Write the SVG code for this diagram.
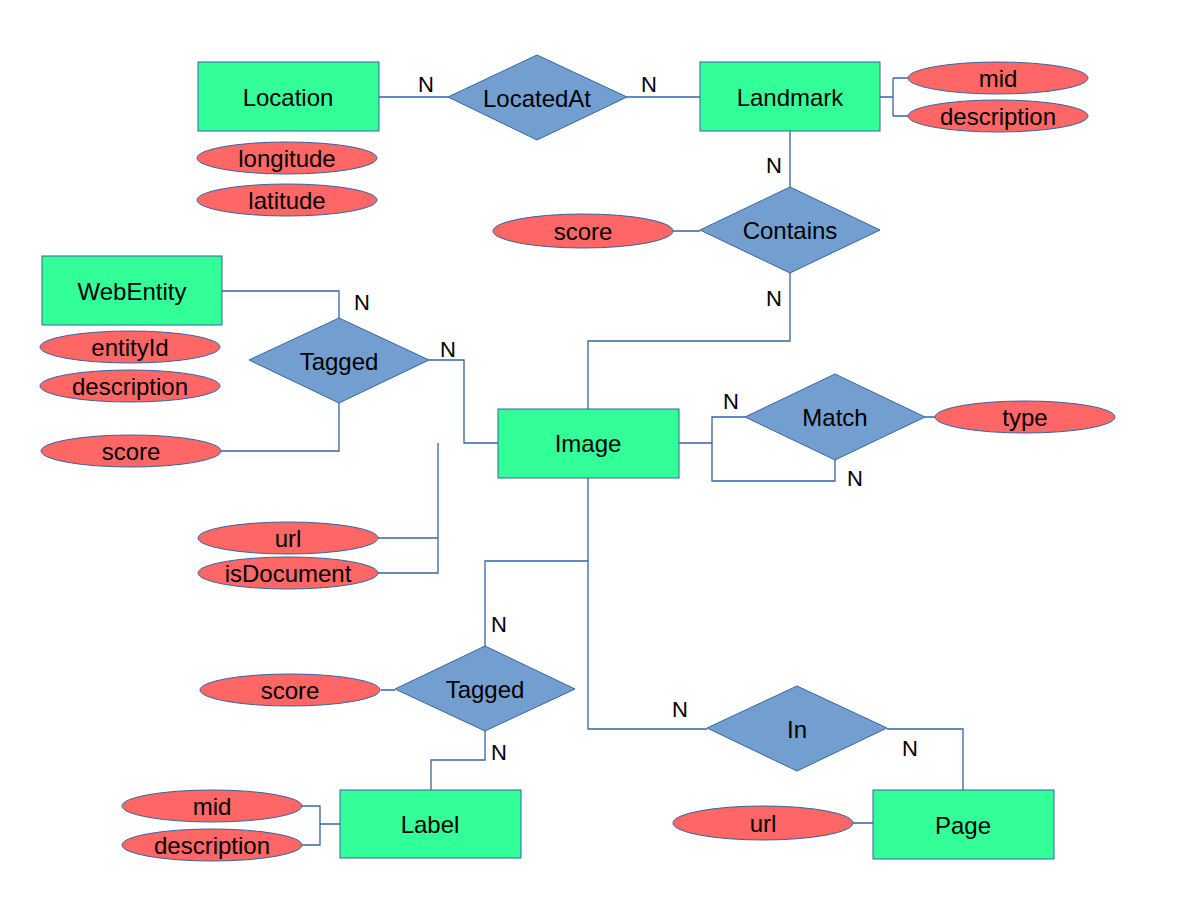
<svg xmlns="http://www.w3.org/2000/svg" width="1200" height="900" viewBox="0 0 1200 900">
<style>
.e{fill:#33ff99;stroke:#3465a4;stroke-width:1}
.r{fill:#729fcf;stroke:#3465a4;stroke-width:1}
.a{fill:#ff6666;stroke:#3465a4;stroke-width:1}
.c{fill:none;stroke:#3465a4;stroke-width:1.3}
text{font-family:"Liberation Sans",Arial,sans-serif;font-size:24px;fill:#000;text-anchor:middle;dominant-baseline:central}
.n{font-size:22px}
</style>
<rect width="1200" height="900" fill="#fff"/>
<g id="connectors">
<path class="c" d="M379,97H448M627,97H700M880,97H893M893,78V116M893,78H908M893,116H908M790,131V187M673,231H700M790,273V341H588V409M222,291H339V318M429,360H464V443H498M339,403V451H221M378,538H438M378,573H438V443M679,443H712V417H745M712,443V481H835V460M925,417H935M588,478V561H485V646M588,561V729H707M381,690H395M485,731V760H431V790M887,729H963V790M302,806H320V845H302M320,824H340M853,823H873"/>
</g>
<g id="labels">
<text class="n" x="426" y="84">N</text><text class="n" x="649" y="84">N</text>
<text class="n" x="774" y="165">N</text><text class="n" x="774" y="298">N</text>
<text class="n" x="362" y="302">N</text><text class="n" x="448" y="349">N</text>
<text class="n" x="731" y="401">N</text><text class="n" x="855" y="478">N</text>
<text class="n" x="499" y="624">N</text><text class="n" x="680" y="709">N</text>
<text class="n" x="499" y="752">N</text><text class="n" x="910" y="748">N</text>
</g>
<g id="Location"><rect class="e" x="198" y="62" width="181" height="69"/><text x="288" y="97">Location</text></g>
<g id="Landmark"><rect class="e" x="700" y="62" width="180" height="69"/><text x="790" y="97">Landmark</text></g>
<g id="WebEntity"><rect class="e" x="42" y="256" width="180" height="69"/><text x="132" y="291">WebEntity</text></g>
<g id="Image"><rect class="e" x="498" y="409" width="181" height="69"/><text x="588" y="443">Image</text></g>
<g id="Label"><rect class="e" x="340" y="790" width="181" height="68"/><text x="430" y="824">Label</text></g>
<g id="Page"><rect class="e" x="873" y="790" width="181" height="69"/><text x="963" y="825">Page</text></g>
<g id="LocatedAt"><polygon class="r" points="448,97 537,55 627,97 537,140"/><text x="537" y="98">LocatedAt</text></g>
<g id="Contains"><polygon class="r" points="700,230 790,187 880,230 790,273"/><text x="790" y="230">Contains</text></g>
<g id="TaggedWeb"><polygon class="r" points="249,360 339,318 429,360 339,403"/><text x="339" y="361">Tagged</text></g>
<g id="Match"><polygon class="r" points="745,417 835,374 925,417 835,460"/><text x="835" y="417">Match</text></g>
<g id="TaggedLabel"><polygon class="r" points="395,689 485,646 575,689 485,731"/><text x="485" y="689">Tagged</text></g>
<g id="In"><polygon class="r" points="707,728 797,686 887,728 797,771"/><text x="797" y="729">In</text></g>
<g id="attrs">
<g id="lm-mid"><ellipse class="a" cx="998" cy="78" rx="90" ry="16"/><text x="998" y="78">mid</text></g>
<g id="lm-desc"><ellipse class="a" cx="998" cy="116" rx="90" ry="16"/><text x="998" y="116">description</text></g>
<g id="loc-lon"><ellipse class="a" cx="287" cy="158" rx="90" ry="16"/><text x="287" y="158">longitude</text></g>
<g id="loc-lat"><ellipse class="a" cx="287" cy="200" rx="90" ry="16"/><text x="287" y="200">latitude</text></g>
<g id="c-score"><ellipse class="a" cx="583" cy="231" rx="90" ry="17"/><text x="583" y="231">score</text></g>
<g id="we-id"><ellipse class="a" cx="130" cy="347" rx="90" ry="16"/><text x="130" y="347">entityId</text></g>
<g id="we-desc"><ellipse class="a" cx="130" cy="386" rx="90" ry="16"/><text x="130" y="386">description</text></g>
<g id="t-score"><ellipse class="a" cx="131" cy="451" rx="90" ry="16"/><text x="131" y="451">score</text></g>
<g id="img-url"><ellipse class="a" cx="288" cy="538" rx="90" ry="16"/><text x="288" y="538">url</text></g>
<g id="img-doc"><ellipse class="a" cx="288" cy="573" rx="90" ry="16"/><text x="288" y="573">isDocument</text></g>
<g id="m-type"><ellipse class="a" cx="1025" cy="417" rx="90" ry="16"/><text x="1025" y="417">type</text></g>
<g id="tl-score"><ellipse class="a" cx="290" cy="690" rx="90" ry="16"/><text x="290" y="690">score</text></g>
<g id="lb-mid"><ellipse class="a" cx="212" cy="806" rx="90" ry="16"/><text x="212" y="806">mid</text></g>
<g id="lb-desc"><ellipse class="a" cx="212" cy="845" rx="90" ry="16"/><text x="212" y="845">description</text></g>
<g id="pg-url"><ellipse class="a" cx="763" cy="823" rx="90" ry="17"/><text x="763" y="823">url</text></g>
</g>
</svg>
